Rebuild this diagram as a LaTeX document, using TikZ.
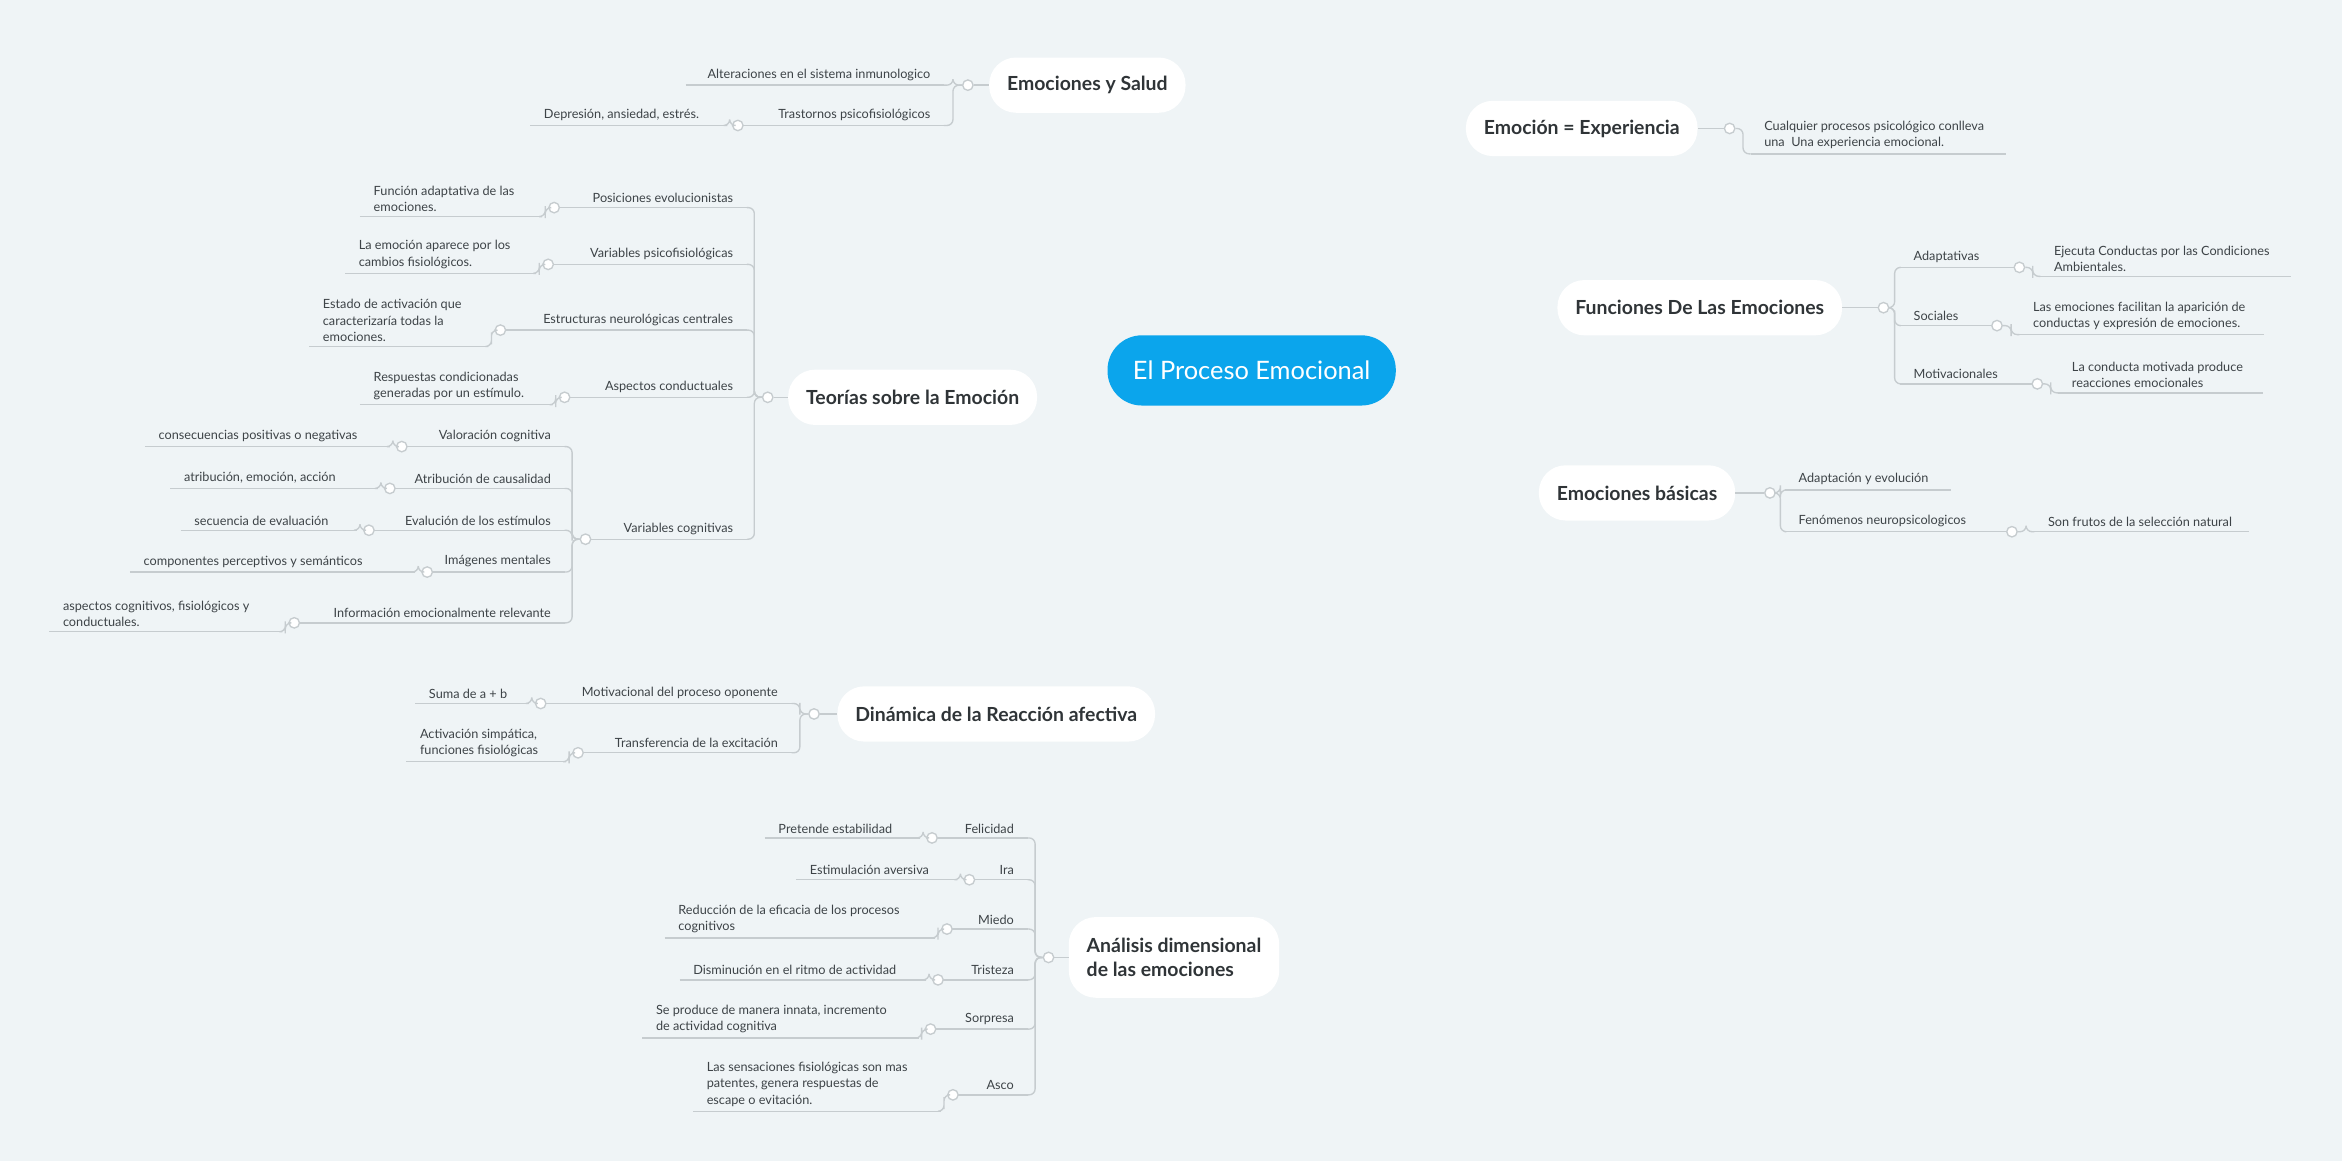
\documentclass[tikz,border=0pt]{standalone}
\usepackage{fontspec}
\setmainfont{Lato}
\usetikzlibrary{backgrounds,calc}
\definecolor{bgcol}{HTML}{EFF4F6}
\definecolor{twigcol}{HTML}{C6CCCF}
\definecolor{inkcol}{HTML}{3D4347}
\definecolor{maincol}{HTML}{2F3437}
\definecolor{rootcol}{HTML}{0BA5EC}

\tikzset{
  twig/.style={draw=twigcol, line width=0.9pt, rounded corners=4pt},
  leaf/.style={font=\fontsize{8.5}{11}\selectfont, text=inkcol, inner sep=0pt, align=left},
  knob/.style={circle, draw=twigcol, fill=white, line width=0.9pt, minimum size=7pt, inner sep=0pt},
  topic/.style={rounded corners=18pt, fill=white, text=maincol, font=\fontsize{13}{16}\selectfont\bfseries, minimum height=37pt, inner xsep=12pt, align=left},
  root/.style={rounded corners=23pt, fill=rootcol, text=white, font=\fontsize{17}{20}\selectfont, minimum width=193pt, minimum height=47pt}
}
% underline with text at its east or west end
\newcommand{\twigE}[5]{\draw[twig] (#2,#4) coordinate (#1-l) -- (#3,#4) coordinate (#1-r);
  \node[leaf, anchor=south east] (#1) at ([xshift=-9pt,yshift=3pt]#1-r) {#5};}
\newcommand{\twigW}[5]{\draw[twig] (#2,#4) coordinate (#1-l) -- (#3,#4) coordinate (#1-r);
  \node[leaf, anchor=south west] (#1) at ([xshift=9pt,yshift=3pt]#1-l) {#5};}
\newcommand{\branchto}[2]{\draw[twig] (#1) -| ($(#1)!.5!(#2)$) |- (#2);}

\begin{document}
\begin{tikzpicture}[x=1pt,y=-1pt]
\fill[bgcol] (0,0) rectangle (1568,777);
\useasboundingbox (0,0) rectangle (1568,777);

% root and topics
\node[root] (proc) at (838,248) {El Proceso Emocional};
\node[topic] (salud) at (728,57) {Emociones y Salud};
\node[topic] (exper) at (1059,86) {Emoción = Experiencia};
\node[topic] (func) at (1138,206) {Funciones De Las Emociones};
\node[topic] (basic) at (1096,330) {Emociones básicas};
\node[topic] (teo) at (611,266) {Teorías sobre la Emoción};
\node[topic] (din) at (667,478) {Dinámica de la Reacción afectiva};
\node[topic, minimum height=54pt] (ana) at (786,641) {Análisis dimensional\\de las emociones};

\begin{scope}[on background layer]
\draw[twig] (proc.center) .. controls (838,110) and (832,57) .. ([xshift=8pt]salud.east);
\draw[twig] (proc.center) .. controls (862,140) and (900,86) .. (exper.west);
\draw[twig] (proc.center) .. controls (950,214) and (1000,206) .. (func.west);
\draw[twig] (proc.center) .. controls (880,300) and (960,330) .. (basic.west);
\draw[twig] (proc.center) .. controls (760,262) and (730,266) .. ([xshift=10pt]teo.east);
\draw[twig] (proc.center) .. controls (838,400) and (830,478) .. ([xshift=8pt]din.east);
\draw[twig] (proc.center) .. controls (870,330) and (874,640) .. ([xshift=8pt]ana.east);
\end{scope}

% Emociones y Salud
\node[knob] (sal-k) at (648,57) {};
\draw[twig] (salud.west) -- (sal-k.east);
\twigE{alt}{459}{632}{57}{Alteraciones en el sistema inmunologico}
\twigE{tras}{494}{632}{84}{Trastornos psicofisiológicos}
\node[knob] (tras-k) at (tras-l) {};
\twigW{dep}{355}{487}{84}{Depresión, ansiedad, estrés.}
\branchto{sal-k.west}{alt-r}
\branchto{sal-k.west}{tras-r}
\branchto{tras-k.west}{dep-r}

% Teorias sobre la Emocion
\node[knob] (teo-k) at (514,266) {};
\draw[twig] (teo.west) -- (teo-k.east);
\twigE{pos}{371}{500}{139}{Posiciones evolucionistas}
\node[knob] (pos-k) at (pos-l) {};
\twigW{fad}{241}{363}{145}{Función adaptativa de las\\emociones.}
\twigE{varp}{367}{500}{177}{Variables psicofisiológicas}
\node[knob] (varp-k) at (varp-l) {};
\twigW{apa}{231}{359}{183}{La emoción aparece por los\\cambios fisiológicos.}
\twigE{neu}{335}{500}{221}{Estructuras neurológicas centrales}
\node[knob] (neu-k) at (neu-l) {};
\twigW{acti}{207}{327}{232}{Estado de activación que\\caracterizaría todas la\\emociones.}
\twigE{cond}{378}{500}{266}{Aspectos conductuales}
\node[knob] (cond-k) at (cond-l) {};
\twigW{resp}{241}{370}{271}{Respuestas condicionadas\\generadas por un estímulo.}
\twigE{varc}{392}{500}{361}{Variables cognitivas}
\node[knob] (varc-k) at (varc-l) {};
\foreach \kid in {pos,varp,neu,cond,varc} {\branchto{teo-k.west}{\kid-r}}
\branchto{pos-k.west}{fad-r}
\branchto{varp-k.west}{apa-r}
\branchto{neu-k.west}{acti-r}
\branchto{cond-k.west}{resp-r}

% Variables cognitivas
\twigE{val}{269}{378}{299}{Valoración cognitiva}
\node[knob] (val-k) at (val-l) {};
\twigW{conse}{97}{261}{299}{consecuencias positivas o negativas}
\twigE{atr}{261}{378}{327}{Atribución de causalidad}
\node[knob] (atr-k) at (atr-l) {};
\twigW{atri}{114}{253}{327}{atribución, emoción, acción}
\twigE{eva}{247}{378}{355}{Evalución de los estímulos}
\node[knob] (eva-k) at (eva-l) {};
\twigW{secu}{121}{239}{355}{secuencia de evaluación}
\twigE{ima}{286}{378}{383}{Imágenes mentales}
\node[knob] (ima-k) at (ima-l) {};
\twigW{comp}{87}{278}{383}{componentes perceptivos y semánticos}
\twigE{info}{197}{378}{417}{Información emocionalmente relevante}
\node[knob] (info-k) at (info-l) {};
\twigW{aspc}{33}{189}{423}{aspectos cognitivos, fisiológicos y\\conductuales.}
\foreach \kid in {val,atr,eva,ima,info} {\branchto{varc-k.west}{\kid-r}}
\branchto{val-k.west}{conse-r}
\branchto{atr-k.west}{atri-r}
\branchto{eva-k.west}{secu-r}
\branchto{ima-k.west}{comp-r}
\branchto{info-k.west}{aspc-r}

% Dinamica de la Reaccion afectiva
\node[knob] (din-k) at (545,478) {};
\draw[twig] (din.west) -- (din-k.east);
\twigE{opo}{362}{530}{471}{Motivacional del proceso oponente}
\node[knob] (opo-k) at (opo-l) {};
\twigW{suma}{278}{354}{471}{Suma de a + b}
\twigE{trans}{387}{530}{504}{Transferencia de la excitación}
\node[knob] (trans-k) at (trans-l) {};
\twigW{simp}{272}{379}{510}{Activación simpática,\\funciones fisiológicas}
\branchto{din-k.west}{opo-r}
\branchto{din-k.west}{trans-r}
\branchto{opo-k.west}{suma-r}
\branchto{trans-k.west}{simp-r}

% Analisis dimensional
\node[knob] (ana-k) at (702,641) {};
\draw[twig] (ana.west) -- (ana-k.east);
\twigE{feli}{624}{688}{561}{Felicidad}
\node[knob] (feli-k) at (feli-l) {};
\twigW{pret}{512}{616}{561}{Pretende estabilidad}
\twigE{ira}{649}{688}{589}{Ira}
\node[knob] (ira-k) at (ira-l) {};
\twigW{aver}{533}{641}{589}{Estimulación aversiva}
\twigE{mied}{634}{688}{622}{Miedo}
\node[knob] (mied-k) at (mied-l) {};
\twigW{redu}{445}{626}{628}{Reducción de la eficacia de los procesos\\cognitivos}
\twigE{tris}{628}{688}{656}{Tristeza}
\node[knob] (tris-k) at (tris-l) {};
\twigW{ritmo}{455}{620}{656}{Disminución en el ritmo de actividad}
\twigE{sorp}{623}{688}{689}{Sorpresa}
\node[knob] (sorp-k) at (sorp-l) {};
\twigW{inna}{430}{615}{695}{Se produce de manera innata, incremento\\de actividad cognitiva}
\twigE{asco}{638}{688}{733}{Asco}
\node[knob] (asco-k) at (asco-l) {};
\twigW{pate}{464}{630}{744}{Las sensaciones fisiológicas son mas\\patentes, genera respuestas de\\escape o evitación.}
\foreach \kid in {feli,ira,mied,tris,sorp,asco} {\branchto{ana-k.west}{\kid-r}}
\branchto{feli-k.west}{pret-r}
\branchto{ira-k.west}{aver-r}
\branchto{mied-k.west}{redu-r}
\branchto{tris-k.west}{ritmo-r}
\branchto{sorp-k.west}{inna-r}
\branchto{asco-k.west}{pate-r}

% Emocion = Experiencia
\node[knob] (exp-k) at (1158,86) {};
\draw[twig] (exper.east) -- (exp-k.west);
\twigW{cual}{1172}{1343}{103}{Cualquier procesos psicológico conlleva\\una\ \ Una experiencia emocional.}
\branchto{exp-k.east}{cual-l}

% Funciones De Las Emociones
\node[knob] (fun-k) at (1261,206) {};
\draw[twig] (func.east) -- (fun-k.west);
\twigW{adap}{1272}{1352}{179}{Adaptativas}
\node[knob] (adap-k) at (adap-r) {};
\twigW{ejec}{1366}{1534}{185}{Ejecuta Conductas por las Condiciones\\Ambientales.}
\twigW{soci}{1272}{1337}{218}{Sociales}
\node[knob] (soci-k) at (soci-r) {};
\twigW{faci}{1352}{1516}{224}{Las emociones facilitan la aparición de\\conductas y expresión de emociones.}
\twigW{moti}{1272}{1364}{257}{Motivacionales}
\node[knob] (moti-k) at (moti-r) {};
\twigW{prod}{1378}{1515}{263}{La conducta motivada produce\\reacciones emocionales}
\foreach \kid in {adap,soci,moti} {\branchto{fun-k.east}{\kid-l}}
\branchto{adap-k.east}{ejec-l}
\branchto{soci-k.east}{faci-l}
\branchto{moti-k.east}{prod-l}

% Emociones basicas
\node[knob] (bas-k) at (1185,330) {};
\draw[twig] (basic.east) -- (bas-k.west);
\twigW{evol}{1195}{1306}{328}{Adaptación y evolución}
\twigW{fen}{1195}{1347}{356}{Fenómenos neuropsicologicos}
\node[knob] (fen-k) at (fen-r) {};
\twigW{frut}{1362}{1506}{356}{Son frutos de la selección natural}
\branchto{bas-k.east}{evol-l}
\branchto{bas-k.east}{fen-l}
\branchto{fen-k.east}{frut-l}
\end{tikzpicture}
\end{document}
